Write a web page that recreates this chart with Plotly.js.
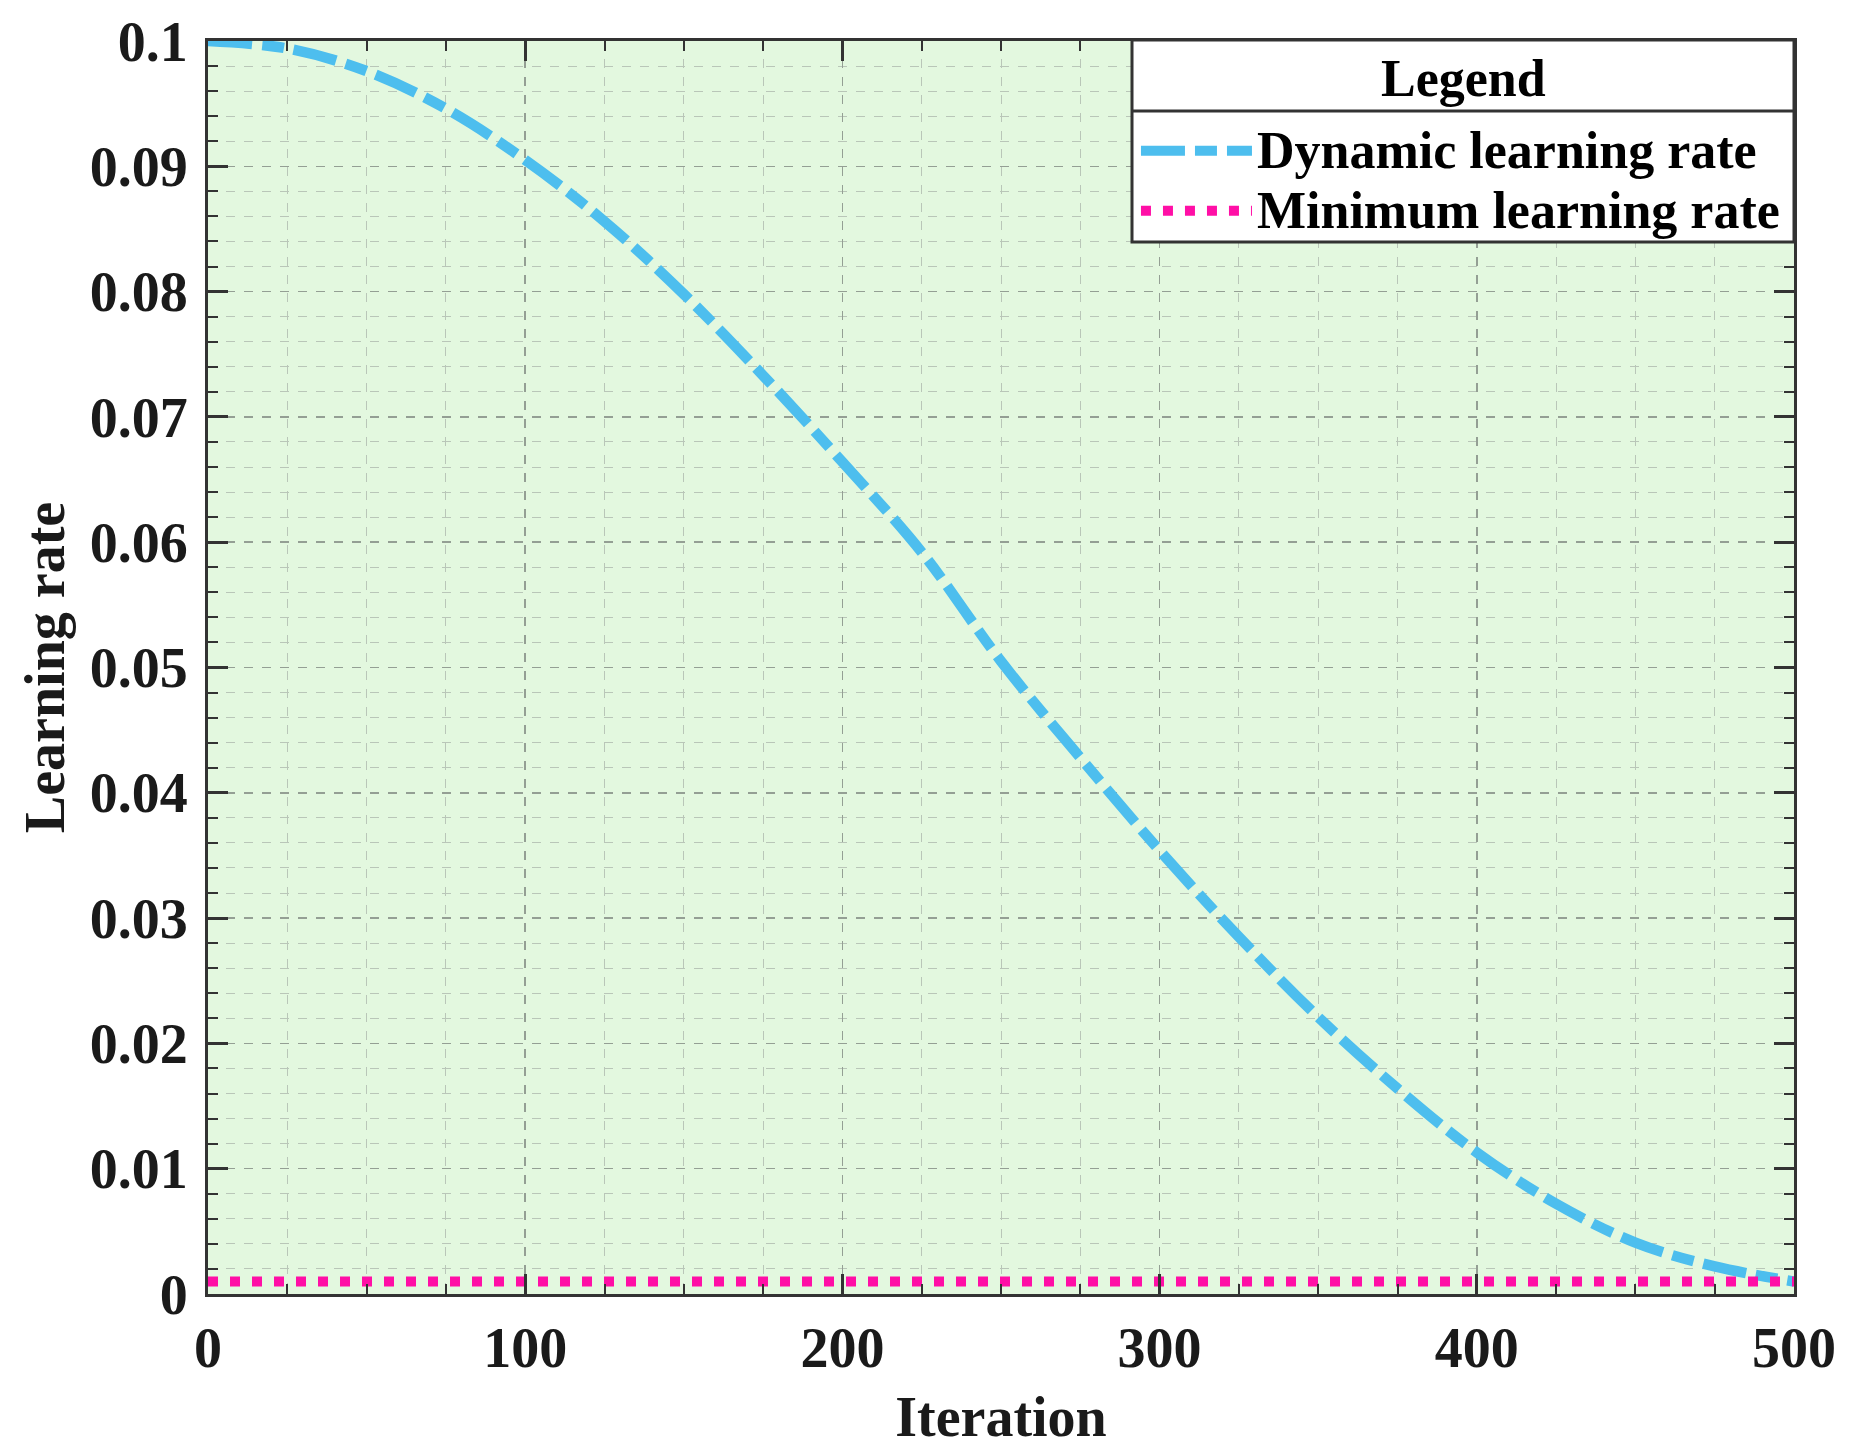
<!DOCTYPE html>
<html>
<head>
<meta charset="utf-8">
<script src="https://cdn.plot.ly/plotly-3.0.1.min.js"></script>
<style>
  html, body { margin: 0; padding: 0; background: #ffffff; }
  #chart { width: 1855px; height: 1455px; }
</style>
</head>
<body>
<div id="chart"></div>
<script>
// Data
const iterations = [0, 25, 50, 75, 100, 125, 150, 175, 200, 225, 250, 275, 300, 325, 350, 375, 400, 425, 450, 475, 500];
const dynamicLR = [0.1, 0.0994, 0.0976, 0.0946, 0.0905, 0.0856, 0.0798, 0.0733, 0.0664, 0.0592, 0.0505, 0.0428, 0.0354, 0.0285, 0.0221, 0.0164, 0.0113, 0.0072, 0.0041, 0.0022, 0.001];
const minIterations = [0, 500];
const minimumLR = [0.001, 0.001];
const seriesNames = ["Dynamic learning rate", "Minimum learning rate"];
const legendTitle = "Legend";
const xTitle = "Iteration";
const yTitle = "Learning rate";

const FONT = "Liberation Serif, Times New Roman, serif";
const INK = "#1a1a1a";
const big = (s) => '<span style="font-size:52px">' + s + '</span>';

const traces = [
  {
    x: iterations, y: dynamicLR, name: big(seriesNames[0]),
    type: "scatter", mode: "lines",
    line: { color: "#4DBEEE", width: 10.5, dash: "44px,10px,22px,10px", shape: "spline", smoothing: 1 }
  },
  {
    x: minIterations, y: minimumLR, name: big(seriesNames[1]),
    type: "scatter", mode: "lines",
    line: { color: "#FF0FA6", width: 10, dash: "10px,12px" }
  }
];

const axisCommon = {
  showline: true, linecolor: "#333333", linewidth: 3, mirror: "ticks",
  ticks: "inside", ticklen: 20, tickwidth: 3, tickcolor: "#333333",
  showgrid: true, gridcolor: "#949f94", gridwidth: 1.5, griddash: "dash",
  zeroline: false,
  tickfont: { family: FONT, size: 56, color: INK, weight: "bold" }
};

// legend frame (paper coordinates of the plot area)
const boxLeft = 0.5826, boxRight = 1, boxTop = 1.0008, boxBottom = 0.8396, sepY = 0.9441;

const layout = {
  width: 1855, height: 1455,
  margin: { l: 208, r: 61, t: 41, b: 161 },
  paper_bgcolor: "#ffffff",
  plot_bgcolor: "#e3f8df",
  showlegend: true,
  xaxis: Object.assign({}, axisCommon, {
    range: [0, 500], dtick: 100, tick0: 0,
    ticklabelstandoff: 3,
    minor: { dtick: 25, ticks: "inside", ticklen: 10, tickwidth: 2, tickcolor: "#333333",
             showgrid: true, gridcolor: "#b9c6b8", gridwidth: 1, griddash: "dash" },
    title: { text: xTitle, standoff: 19, font: { family: FONT, size: 56, color: INK, weight: "bold" } }
  }),
  yaxis: Object.assign({}, axisCommon, {
    range: [0, 0.1], dtick: 0.01, tick0: 0,
    ticklabelstandoff: 6,
    minor: { dtick: 0.002, ticks: "inside", ticklen: 10, tickwidth: 2, tickcolor: "#333333",
             showgrid: true, gridcolor: "#b9c6b8", gridwidth: 1, griddash: "dash" },
    title: { text: yTitle, standoff: 8, font: { family: FONT, size: 56, color: INK, weight: "bold" } }
  }),
  legend: {
    x: 0.5851, y: 0.9405, xanchor: "left", yanchor: "top",
    bgcolor: "rgba(0,0,0,0)", borderwidth: 0,
    font: { family: FONT, size: 44, color: "#000000", weight: "bold" },
    itemwidth: 111
  },
  shapes: [
    { type: "rect", xref: "paper", yref: "paper", x0: boxLeft, x1: boxRight, y0: boxBottom, y1: boxTop,
      fillcolor: "#ffffff", line: { color: "#333333", width: 3 }, layer: "above" },
    { type: "line", xref: "paper", yref: "paper", x0: boxLeft, x1: boxRight, y0: sepY, y1: sepY,
      line: { color: "#333333", width: 3 }, layer: "above" }
  ],
  annotations: [
    { text: legendTitle, xref: "paper", yref: "paper", x: (boxLeft + boxRight) / 2, y: 0.9697,
      xanchor: "center", yanchor: "middle", showarrow: false,
      font: { family: FONT, size: 52, color: "#000000", weight: "bold" } }
  ]
};

Plotly.newPlot("chart", traces, layout, { displayModeBar: false, staticPlot: true });
</script>
</body>
</html>
